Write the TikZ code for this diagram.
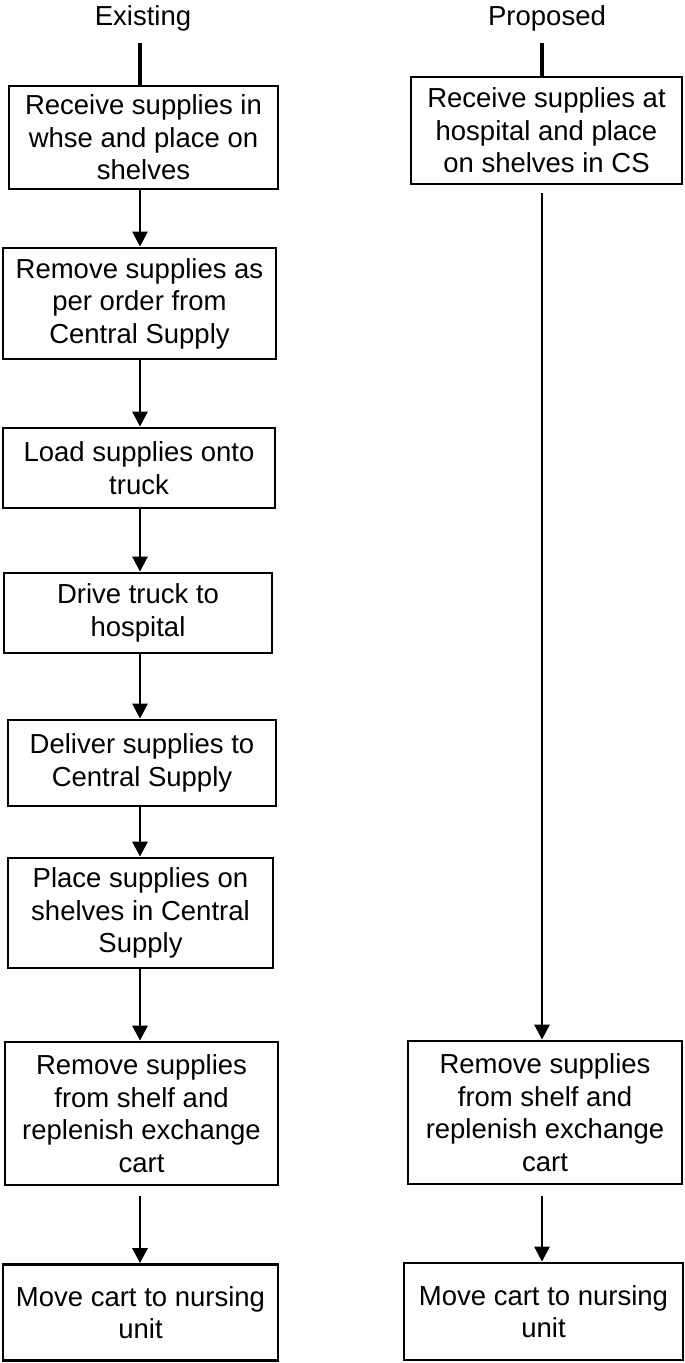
\documentclass[tikz,border=0pt]{standalone}
\usepackage{fontspec}
\setmainfont{Liberation Sans}
\usetikzlibrary{arrows.meta}
\tikzset{
	stepbox/.style={draw, line width=2.8pt, align=center, inner sep=0pt, font=\fontsize{27.5}{32.5}\selectfont},
	head/.style={anchor=base, font=\fontsize{27.5}{32.5}\selectfont},
	arr/.style={line width=2.8pt, -{Triangle[width=15pt,length=15pt]}},
	stub/.style={line width=4pt}
}
\begin{document}
\begin{tikzpicture}[x=1pt, y=-1pt]
		\useasboundingbox (0,0) rectangle (685,1363);
		\node[head] (exist) at (143,25) {Existing};
		\node[head] (prop) at (547,25) {Proposed};
		\foreach \n/\x/\y/\w/\h/\t in {L1/143.5/137.5/269/103/{Receive supplies in\\whse and place on\\shelves},
			L2/139.5/303.5/273/111/{Remove supplies as\\per order from\\Central Supply},
			L3/139/468/272/80/{Load supplies onto\\truck},
			L4/138/613/268/80/{Drive truck to\\hospital},
			L5/142/763/268/86/{Deliver supplies to\\Central Supply},
			L6/140.5/913/265/110/{Place supplies on\\shelves in Central\\Supply},
			L7/141.5/1113.5/273/143/{Remove supplies\\from shelf and\\replenish exchange\\cart},
			L8/140.5/1312.5/275/96/{Move cart to nursing\\unit},
			R1/546.5/130.5/271/107/{Receive supplies at\\hospital and place\\on shelves in CS},
			R2/545/1112.5/274/143/{Remove supplies\\from shelf and\\replenish exchange\\cart},
			R3/543.5/1311.5/279/97/{Move cart to nursing\\unit}}
		{
			\node[stepbox, minimum width=\w pt, minimum height=\h pt] (\n) at (\x,\y) {\t};
		}
		\coordinate (colL) at (140,43);
		\coordinate (colR) at (542,43);
		\draw[stub] (colL) -- (colL |- L1.north);
		\draw[stub] (colR) -- (colR |- R1.north);
		\foreach \a/\b in {L1/L2, L2/L3, L3/L4, L4/L5, L5/L6, L6/L7}
		{
			\draw[arr] (\a.south -| colL) -- (\b.north -| colL);
		}
		\draw[arr, shorten <=10pt] (L7.south -| colL) -- (L8.north -| colL);
		\draw[arr, shorten <=8pt] (R1.south -| colR) -- (R2.north -| colR);
		\draw[arr, shorten <=11pt] (R2.south -| colR) -- (R3.north -| colR);
	\end{tikzpicture}
\end{document}
